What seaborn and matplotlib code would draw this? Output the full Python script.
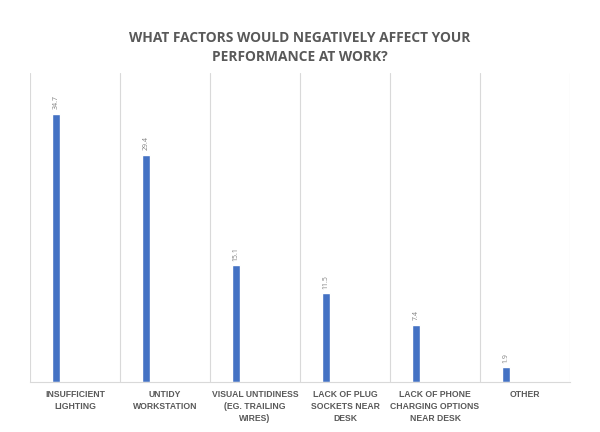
import pandas as pd
import numpy as np
import matplotlib
matplotlib.use("Agg")
import matplotlib.pyplot as plt
import seaborn as sns

# survey answers, percent of respondents
factors = ["INSUFFICIENT\nLIGHTING", "UNTIDY\nWORKSTATION",
           "VISUAL UNTIDINESS\n(EG. TRAILING\nWIRES)", "LACK OF PLUG\nSOCKETS NEAR\nDESK",
           "LACK OF PHONE\nCHARGING OPTIONS\nNEAR DESK", "OTHER"]
percent = [34.7, 29.4, 15.1, 11.5, 7.4, 1.9]
series = ["Responses", "blank"]

sns.set_theme(style="white")
plt.rcParams["font.family"] = ["Open Sans", "DejaVu Sans"]

df = pd.DataFrame({
    "Factor": factors * 2,
    "Percent": percent + [0] * len(percent),
    "Series": [series[0]] * len(factors) + [series[1]] * len(factors),
})

fig = plt.figure(figsize=(6, 4.32), dpi=100)
ax = fig.add_axes([0.05, 0.1157, 0.9, 0.7153])

sns.barplot(data=df, x="Factor", y="Percent", hue="Series", order=factors,
            palette=["#4472C4", "#4472C4"], saturation=1, width=0.84, gap=0.79,
            legend=False, ax=ax)

# data labels on the real series only
for bar, v in zip(ax.containers[0], percent):
    ax.text(bar.get_x() + bar.get_width() / 2, v + 0.6, f"{v}",
            rotation=90, ha="center", va="bottom", fontsize=5, color="#7f7f7f")

ax.set_ylim(0, 40)
ax.set_xlim(-0.5, len(factors) - 0.5)
ax.set_yticks([])
ax.set_xlabel("")
ax.set_ylabel("")

# vertical separators between categories
for x in np.arange(-0.5, len(factors), 1.0):
    ax.axvline(x, color="#d9d9d9", lw=0.8, zorder=0)

for s in ["top", "left", "right"]:
    ax.spines[s].set_visible(False)
ax.spines["bottom"].set_color("#d9d9d9")
ax.spines["bottom"].set_linewidth(0.8)

ax.tick_params(axis="x", length=0, pad=6)
plt.setp(ax.get_xticklabels(), fontsize=6.2, fontweight="bold", color="#595959",
         family=["Liberation Sans", "DejaVu Sans"], linespacing=1.4)

fig.text(0.5, 0.891, "WHAT FACTORS WOULD NEGATIVELY AFFECT YOUR\nPERFORMANCE AT WORK?",
         ha="center", va="center", fontsize=9.9, fontweight="bold", color="#595959",
         linespacing=1.45)

fig.savefig("out.png", dpi=100)
